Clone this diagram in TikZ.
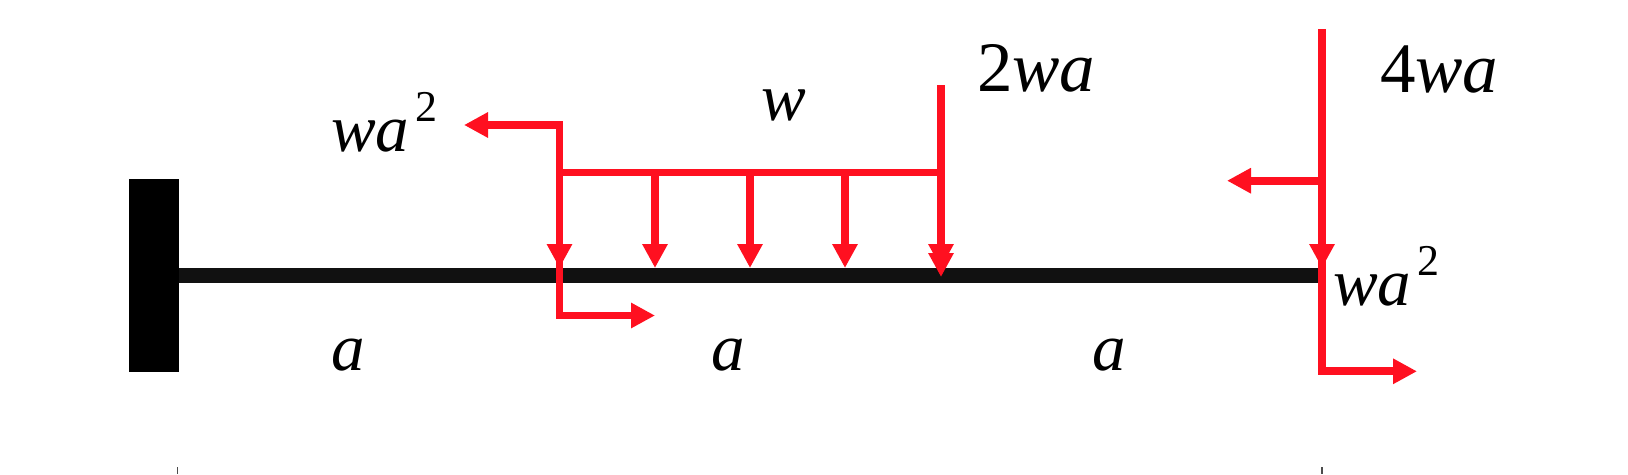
\documentclass[tikz,border=0pt]{standalone}
\usepackage{fontspec}
\setmainfont{Liberation Serif}
\usetikzlibrary{arrows.meta}
\definecolor{redline}{HTML}{FF1020}
\definecolor{beamblack}{HTML}{111111}
\tikzset{
  load/.style={draw=redline,line width=7.7pt,-{Triangle[length=24pt,width=24pt]},miter limit=10},
  plain/.style={draw=redline,line width=7.7pt},
  lab/.style={anchor=base west,inner sep=0pt,outer sep=0pt,font=\fontsize{67}{70}\selectfont\itshape},
  biglab/.style={anchor=base west,inner sep=0pt,outer sep=0pt,font=\fontsize{71}{78}\selectfont\itshape},
  tick/.style={draw=black!70,line width=1.2pt}
}
\newcommand{\squared}{\hspace{6pt}\raisebox{30pt}{\fontsize{44}{46}\selectfont\upshape 2}}
\begin{document}
\begin{tikzpicture}[x=1pt,y=-1pt]
\useasboundingbox (0,0) rectangle (1628,474);
% coordinates
\coordinate (wallL) at (129,179);
\coordinate (wallR) at (179,372);
\coordinate (bL) at (179,275.7);
\coordinate (bM1) at (559.5,258);
\coordinate (bR) at (1318,275.7);
\coordinate (t1a) at (177.7,467);
\coordinate (t1b) at (177.7,474);
\coordinate (t2a) at (1322,467);
\coordinate (t2b) at (1322,474);
\coordinate (mTip1) at (464,125);
\coordinate (mTop1) at (559.5,125);
\coordinate (mBot1) at (559.5,315.5);
\coordinate (mTip2) at (655,315.5);
\coordinate (barL) at (559.5,172.5);
\coordinate (barR) at (941,172.5);
\coordinate (f1) at (559.5,268);
\coordinate (u2t) at (655,172.5);
\coordinate (u2b) at (655,268);
\coordinate (u3t) at (750,172.5);
\coordinate (u3b) at (750,268);
\coordinate (u4t) at (845,172.5);
\coordinate (u4b) at (845,268);
\coordinate (u5b) at (941,268);
\coordinate (pTop) at (941,85);
\coordinate (pTip) at (941,277);
\coordinate (rTop) at (1322,29.3);
\coordinate (rTip) at (1322,268);
\coordinate (rMid) at (1322,180.7);
\coordinate (rTipL) at (1227,180.7);
\coordinate (rBot) at (1322,371.3);
\coordinate (rTipR) at (1417,371.3);
% beam and wall
\fill[black] (wallL) rectangle (wallR);
\draw[beamblack,line width=15.5pt] (bL) -- (bR);
\draw[tick] (t1a) -- (t1b);
\draw[tick] (t2a) -- (t2b);
% distributed load
\draw[plain] (barL) -- (barR);
\draw[load] (barL) -- (f1);
\draw[load] (u2t) -- (u2b);
\draw[load] (u3t) -- (u3b);
\draw[load] (u4t) -- (u4b);
\draw[load] (barR) -- (u5b);
\draw[load] (pTop) -- (pTip);
% moment at first point
\draw[load] (barL) -- (mTop1) -- (mTip1);
\draw[load] (bM1) -- (mBot1) -- (mTip2);
% right end
\draw[load] (rTop) -- (rTip);
\draw[load] (rMid) -- (rTipL);
\draw[load] (rTop) -- (rBot) -- (rTipR);
% labels
\node[lab] (lMoment1) at (331,151) {wa\squared};
\node[lab] (lW) at (761,120) {w};
\node[biglab] (l2wa) at (977,91) {\upshape 2\itshape wa};
\node[biglab] (l4wa) at (1380,92) {\upshape 4\itshape wa};
\node[lab] (lMoment2) at (1333,305) {wa\squared};
\node[lab] (la1) at (331,370) {a};
\node[lab] (la2) at (711,370) {a};
\node[lab] (la3) at (1092,370) {a};
\end{tikzpicture}
\end{document}
